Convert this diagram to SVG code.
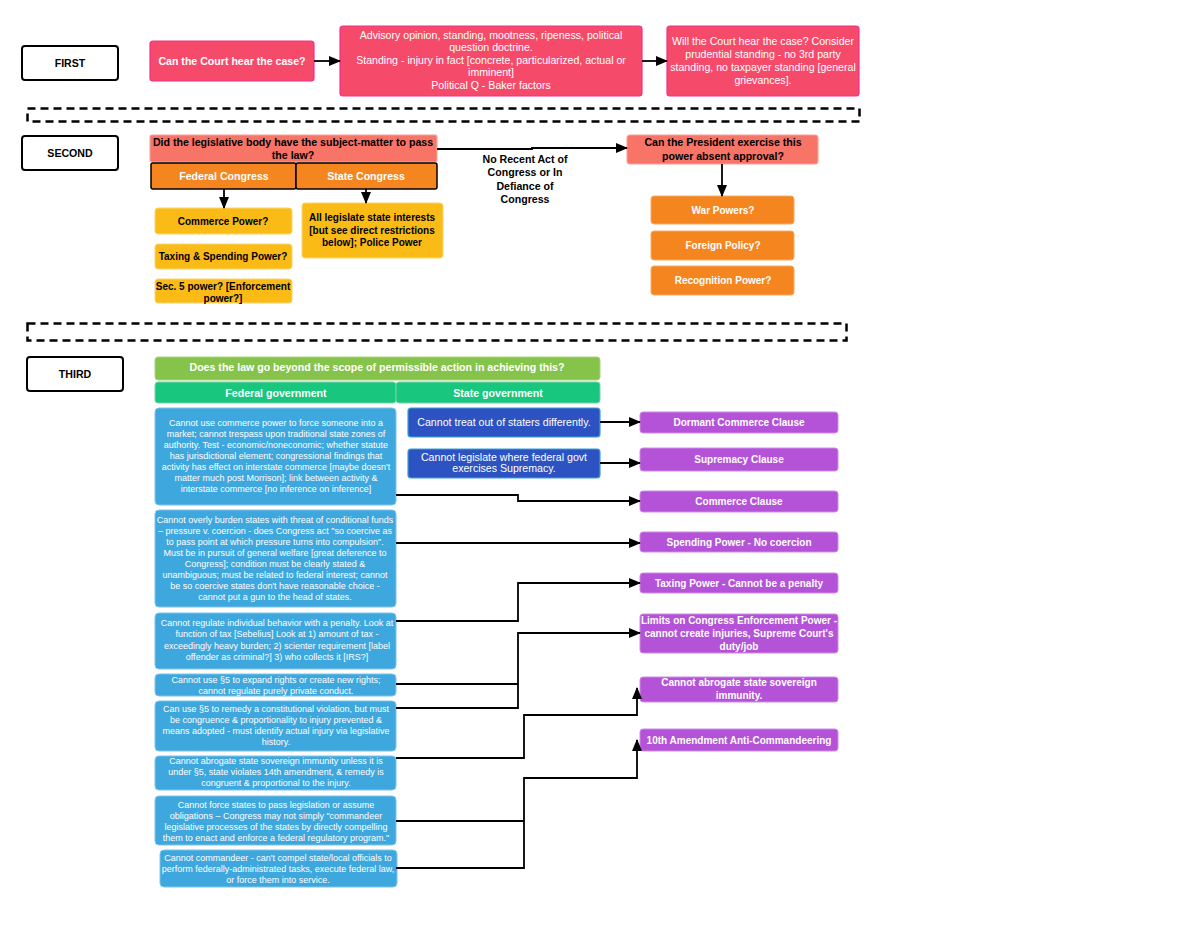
<svg xmlns="http://www.w3.org/2000/svg" width="1200" height="927" viewBox="0 0 1200 927">
<style>
text{font-family:"Liberation Sans",Arial,sans-serif;text-anchor:middle}
.lbl{fill:#fff;stroke:#000;stroke-width:2}
.lblt{font-size:10.6px;font-weight:bold;fill:#000}
.pink{fill:#f64a6a;stroke:#f2308a;stroke-width:1.2}
.salmon{fill:#f87466;stroke:#f7a29a;stroke-width:1.2}
.orange{fill:#f5861f;stroke:#f8aa66;stroke-width:1}
.orangek{fill:#f5861f;stroke:#000;stroke-width:1.5}
.yellow{fill:#fbbb16;stroke:#fcd56d;stroke-width:1}
.green{fill:#86c34b;stroke:#a7d47c;stroke-width:1}
.teal{fill:#19c67d;stroke:#7bcfb0;stroke-width:1}
.lblue{fill:#3ea7dd;stroke:#7cc4ea;stroke-width:1}
.rblue{fill:#2c53c1;stroke:#3aa0d8;stroke-width:1.2}
.purple{fill:#b452d8;stroke:#cf8ae6;stroke-width:1}
.w{fill:#fff}
.k{fill:#000}
.b{font-weight:bold}
.s106{font-size:10.6px}
.s10{font-size:10px}
.s9b{font-size:9px}
.dash{fill:none;stroke:#000;stroke-width:2.5;stroke-dasharray:8 5}
.c{fill:none;stroke:#000;stroke-width:1.8}
</style>
<defs>
<marker id="ah" markerUnits="userSpaceOnUse" markerWidth="12" markerHeight="10" refX="11" refY="5" orient="auto">
<path d="M0,0 L12,5 L0,10 z" fill="#000"/>
</marker>
</defs>
<rect width="1200" height="927" fill="#fff"/>

<g id="dividers">
<rect class="dash" x="27.5" y="108.5" width="832" height="13"/>
<rect class="dash" x="27.5" y="323.5" width="819" height="17"/>
</g>

<g id="first"><rect class="lbl" x="22" y="46" width="96" height="34" rx="3"/><text class="lblt" x="70" y="67">FIRST</text></g>
<g id="second"><rect class="lbl" x="22" y="136" width="96" height="34" rx="3"/><text class="lblt" x="70" y="157">SECOND</text></g>
<g id="third"><rect class="lbl" x="27" y="357" width="96" height="34" rx="3"/><text class="lblt" x="75" y="378">THIRD</text></g>

<g id="n-hear"><rect class="pink" x="150" y="41" width="164" height="40" rx="3"/><text class="w b s106" x="232" y="64.5">Can the Court hear the case?</text></g>
<g id="n-advisory"><rect class="pink" x="340" y="26" width="302" height="70" rx="3"/>
<text class="w s106" x="491"><tspan x="491" y="38.5">Advisory opinion, standing, mootness, ripeness, political</tspan><tspan x="491" y="51">question doctrine.</tspan><tspan x="491" y="63.5">Standing - injury in fact [concrete, particularized, actual or</tspan><tspan x="491" y="76">imminent]</tspan><tspan x="491" y="88.5">Political Q - Baker factors</tspan></text></g>
<g id="n-will"><rect class="pink" x="667" y="26" width="192" height="70" rx="3"/>
<text class="w s106" x="763"><tspan x="763" y="44.5">Will the Court hear the case? Consider</tspan><tspan x="763" y="57.5">prudential standing - no 3rd party</tspan><tspan x="763" y="70.5">standing, no taxpayer standing [general</tspan><tspan x="763" y="83.5">grievances].</tspan></text></g>

<g id="n-legis"><rect class="salmon" x="150" y="135" width="287" height="27" rx="2"/>
<text class="k b s106"><tspan x="293" y="145.5">Did the legislative body have the subject-matter to pass</tspan><tspan x="293" y="159">the law?</tspan></text></g>
<g id="n-fedcong"><rect class="orangek" x="151" y="163" width="145" height="26" rx="2"/><text class="w b s106" x="224" y="180">Federal Congress</text></g>
<g id="n-statecong"><rect class="orangek" x="296" y="163" width="141" height="26" rx="2"/><text class="w b s106" x="366" y="180">State Congress</text></g>
<g id="n-commerce"><rect class="yellow" x="155" y="208" width="137" height="26" rx="3"/><text class="k b s10" x="223" y="224.5">Commerce Power?</text></g>
<g id="n-taxing"><rect class="yellow" x="155" y="244" width="137" height="25" rx="3"/><text class="k b s10" x="223" y="260">Taxing &amp; Spending Power?</text></g>
<g id="n-sec5"><rect class="yellow" x="155" y="279" width="137" height="24" rx="3"/><text class="k b s10"><tspan x="223" y="289.5">Sec. 5 power? [Enforcement</tspan><tspan x="223" y="301.5">power?]</tspan></text></g>
<g id="n-stateint"><rect class="yellow" x="302" y="203" width="141" height="55" rx="3"/><text class="k b s10"><tspan x="372" y="220.5">All legislate state interests</tspan><tspan x="372" y="233.5">[but see direct restrictions</tspan><tspan x="372" y="246">below]; Police Power</tspan></text></g>

<g id="n-label"><text class="k b s106"><tspan x="525" y="162.5">No Recent Act of</tspan><tspan x="525" y="176">Congress or In</tspan><tspan x="525" y="189.5">Defiance of</tspan><tspan x="525" y="202.5">Congress</tspan></text></g>
<g id="n-president"><rect class="salmon" x="627" y="135" width="191" height="29" rx="3"/><text class="k b s106"><tspan x="723" y="146">Can the President exercise this</tspan><tspan x="723" y="159.5">power absent approval?</tspan></text></g>
<g id="n-war"><rect class="orange" x="651" y="196" width="143" height="28" rx="3"/><text class="w b s10" x="723" y="213.5">War Powers?</text></g>
<g id="n-foreign"><rect class="orange" x="651" y="231" width="143" height="29" rx="3"/><text class="w b s10" x="723" y="248.5">Foreign Policy?</text></g>
<g id="n-recog"><rect class="orange" x="651" y="266" width="143" height="29" rx="3"/><text class="w b s10" x="723" y="283.5">Recognition Power?</text></g>

<g id="n-beyond"><rect class="green" x="155" y="357" width="445" height="23" rx="3"/><text class="w b s106" x="377" y="371">Does the law go beyond the scope of permissible action in achieving this?</text></g>
<g id="n-fedgov"><rect class="teal" x="155" y="382" width="241" height="21" rx="3"/><text class="w b s106" x="276" y="396.5">Federal government</text></g>
<g id="n-stategov"><rect class="teal" x="396" y="382" width="204" height="21" rx="3"/><text class="w b s106" x="498" y="396.5">State government</text></g>

<g id="n-b1"><rect class="lblue" x="155" y="408" width="241" height="97" rx="4"/><text class="w s9b"><tspan x="276" y="426">Cannot use commerce power to force someone into a</tspan><tspan x="276" y="437">market; cannot trespass upon traditional state zones of</tspan><tspan x="276" y="448">authority. Test - economic/noneconomic; whether statute</tspan><tspan x="276" y="459">has jurisdictional element; congressional findings that</tspan><tspan x="276" y="470">activity has effect on interstate commerce [maybe doesn't</tspan><tspan x="276" y="481">matter much post Morrison]; link between activity &amp;</tspan><tspan x="276" y="492">interstate commerce [no inference on inference]</tspan></text></g>
<g id="n-b2"><rect class="lblue" x="155" y="510" width="241" height="97" rx="4"/><text class="w s9b"><tspan x="275" y="523">Cannot overly burden states with threat of conditional funds</tspan><tspan x="275" y="534">– pressure v. coercion - does Congress act "so coercive as</tspan><tspan x="275" y="545">to pass point at which pressure turns into compulsion".</tspan><tspan x="275" y="556">Must be in pursuit of general welfare [great deference to</tspan><tspan x="275" y="567">Congress]; condition must be clearly stated &amp;</tspan><tspan x="275" y="578">unambiguous; must be related to federal interest; cannot</tspan><tspan x="275" y="589">be so coercive states don't have reasonable choice -</tspan><tspan x="275" y="600">cannot put a gun to the head of states.</tspan></text></g>
<g id="n-b3"><rect class="lblue" x="155" y="613" width="241" height="56" rx="4"/><text class="w s9b"><tspan x="277" y="626">Cannot regulate individual behavior with a penalty. Look at</tspan><tspan x="277" y="637">function of tax [Sebelius] Look at 1) amount of tax -</tspan><tspan x="277" y="648.5">exceedingly heavy burden; 2) scienter requirement [label</tspan><tspan x="277" y="660">offender as criminal?] 3) who collects it [IRS?]</tspan></text></g>
<g id="n-b4"><rect class="lblue" x="155" y="674" width="241" height="22" rx="4"/><text class="w s9b"><tspan x="276" y="683">Cannot use §5 to expand rights or create new rights;</tspan><tspan x="276" y="694">cannot regulate purely private conduct.</tspan></text></g>
<g id="n-b5"><rect class="lblue" x="155" y="701" width="241" height="50" rx="4"/><text class="w s9b"><tspan x="276" y="712">Can use §5 to remedy a constitutional violation, but must</tspan><tspan x="276" y="723">be congruence &amp; proportionality to injury prevented &amp;</tspan><tspan x="276" y="734">means adopted - must identify actual injury via legislative</tspan><tspan x="276" y="745">history.</tspan></text></g>
<g id="n-b6"><rect class="lblue" x="155" y="756" width="241" height="34" rx="4"/><text class="w s9b"><tspan x="276" y="764">Cannot abrogate state sovereign immunity unless it is</tspan><tspan x="276" y="775">under §5, state violates 14th amendment, &amp; remedy is</tspan><tspan x="276" y="786">congruent &amp; proportional to the injury.</tspan></text></g>
<g id="n-b7"><rect class="lblue" x="155" y="796" width="241" height="49" rx="4"/><text class="w s9b"><tspan x="276" y="808">Cannot force states to pass legislation or assume</tspan><tspan x="276" y="819">obligations – Congress may not simply "commandeer</tspan><tspan x="276" y="830">legislative processes of the states by directly compelling</tspan><tspan x="276" y="841">them to enact and enforce a federal regulatory program."</tspan></text></g>
<g id="n-b8"><rect class="lblue" x="160" y="850" width="237" height="37" rx="4"/><text class="w s9b"><tspan x="278" y="861">Cannot commandeer - can't compel state/local officials to</tspan><tspan x="278" y="872">perform federally-administrated tasks, execute federal law,</tspan><tspan x="278" y="883">or force them into service.</tspan></text></g>

<g id="n-s1"><rect class="rblue" x="408" y="408" width="192" height="29" rx="3"/><text class="w s106" x="504" y="426">Cannot treat out of staters differently.</text></g>
<g id="n-s2"><rect class="rblue" x="408" y="449" width="192" height="29" rx="3"/><text class="w s106"><tspan x="504" y="460.5">Cannot legislate where federal govt</tspan><tspan x="504" y="472">exercises Supremacy.</tspan></text></g>

<g id="n-p1"><rect class="purple" x="640" y="412" width="198" height="21" rx="3"/><text class="w b s10" x="739" y="426">Dormant Commerce Clause</text></g>
<g id="n-p2"><rect class="purple" x="640" y="448" width="198" height="23" rx="3"/><text class="w b s10" x="739" y="463">Supremacy Clause</text></g>
<g id="n-p3"><rect class="purple" x="640" y="491" width="198" height="21" rx="3"/><text class="w b s10" x="739" y="505">Commerce Clause</text></g>
<g id="n-p4"><rect class="purple" x="640" y="532" width="198" height="20" rx="3"/><text class="w b s10" x="739" y="545.5">Spending Power - No coercion</text></g>
<g id="n-p5"><rect class="purple" x="640" y="573" width="198" height="20" rx="3"/><text class="w b s10" x="739" y="586.5">Taxing Power - Cannot be a penalty</text></g>
<g id="n-p6"><rect class="purple" x="640" y="614" width="198" height="39" rx="3"/><text class="w b s10"><tspan x="739" y="624">Limits on Congress Enforcement Power -</tspan><tspan x="739" y="637">cannot create injuries, Supreme Court's</tspan><tspan x="739" y="650">duty/job</tspan></text></g>
<g id="n-p7"><rect class="purple" x="640" y="677" width="198" height="25" rx="3"/><text class="w b s10"><tspan x="739" y="686">Cannot abrogate state sovereign</tspan><tspan x="739" y="698.5">immunity.</tspan></text></g>
<g id="n-p8"><rect class="purple" x="640" y="729" width="198" height="22" rx="3"/><text class="w b s10" x="739" y="743.5">10th Amendment Anti-Commandeering</text></g>

<g id="connectors">
<path class="c" d="M314,61 H340" marker-end="url(#ah)"/>
<path class="c" d="M642,61 H667" marker-end="url(#ah)"/>
<path class="c" d="M437,149 H532 V148 H627" marker-end="url(#ah)"/>
<path class="c" d="M224,189 V208" marker-end="url(#ah)"/>
<path class="c" d="M366,189 V203" marker-end="url(#ah)"/>
<path class="c" d="M722,164 V196" marker-end="url(#ah)"/>
<path class="c" d="M600,422 H640" marker-end="url(#ah)"/>
<path class="c" d="M600,463 H640" marker-end="url(#ah)"/>
<path class="c" d="M396,495 H518 V501 H640" marker-end="url(#ah)"/>
<path class="c" d="M396,543 H640" marker-end="url(#ah)"/>
<path class="c" d="M396,621 H518 V583 H640" marker-end="url(#ah)"/>
<path class="c" d="M396,684 H518 V633 H640" marker-end="url(#ah)"/>
<path class="c" d="M396,708 H518 V684"/>
<path class="c" d="M396,758 H524 V715 H637 V688" marker-end="url(#ah)"/>
<path class="c" d="M396,821 H524 V778 H637 V740" marker-end="url(#ah)"/>
<path class="c" d="M396,868 H524 V821"/>
</g>
</svg>
